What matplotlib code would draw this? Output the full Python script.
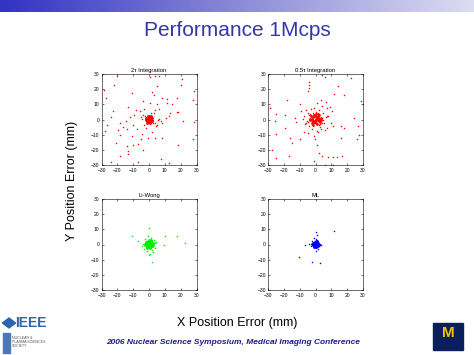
import numpy as np
import matplotlib.pyplot as plt
from matplotlib.colors import LinearSegmentedColormap
from matplotlib.patches import Rectangle, RegularPolygon

plt.rcParams['font.family'] = ['Liberation Sans', 'DejaVu Sans']

# panel titles
titles = ['2\u03c4 Integration', '0.5\u03c4 Integration', 'Li-Wong', 'ML']
colors = ['red', 'red', '#00ee00', 'blue']
ticks = [-30, -20, -10, 0, 10, 20, 30]

# core clusters (mm)
core_x = [0, 0.5, -0.5, 1, -1, 1.5, -1.5, 0.3, -0.3, 0.8, -0.8, 1.2, -1.2, 2, -2,
          0.6, -0.6, 1.7, -1.7, 0.2, -0.2, 1, -1, 2.2, -2.2, 0.4, -0.4, 1.4, -1.4, 0]
core_y = [0, 0.6, -0.5, 1.2, -1, 0.2, 0.4, -1.5, 1.6, -0.3, 0.9, 1.8, -1.3, 0.8, -0.4,
          -2, 2, -1, 1.3, 0.1, -0.9, 2.3, -2.1, -0.2, 0.3, 1, -1.2, -0.7, -0.2, 2.4]

# 2tau integration
tl_x = [-20, 0.7, 4, 6, 21, 20, -22, -28.5, 28.3, 5, -11, 2, 3, 8, 11.6, 17.5, 27.7, -27,
        -3.5, 0.5, 11.4, 14.3, 5, -13, -23, -8, -6, -3, 1.4, 6, 13.5, 17.5, 18.3, -9.3,
        -12, -14.7, -24, -26.6, -27.7, -18.5, -16.6, -19.6, -18.5, -21, -13.7, -10, -7.4,
        -11, -4.3, -5, -7, -10, -13.7, -13, -3.9, -13, -18.5, -24, -7, 7.8, 12.5, 3.5, 5,
        6.5, 7.5, 8, 11, 12.5, 21.7, 28.6, 2, 4, -0.7, 8, 18, 27.5, -1.8, -4, 3, -3, 4.5,
        -5, 2.5, -2.5, 5.5, 3.5, -4.5]
tl_y = [28.4, 27.7, 28.4, 28.4, 26.6, 23, 23, 19.5, 19, 22, 17.7, 18, 16, 14, 13.4, 14, 13,
        14, 12.5, 11, 11, 10, 10.3, 8.5, 5.8, 6.5, 5.4, 7, 4.2, 7, 4.2, 5, 5, 3.1, 1.6,
        -0.9, 1.6, -3.6, -7.4, -2.5, -4.7, -7, -10, -15.2, -6.3, -3.6, -6.3, -11, -9.6, -13,
        -16, -16.6, -17.7, -20.8, -20, -23, -24, -28, -28, -26, -29, -2.5, -3.6, 0.5, -1,
        -2, 1, 2, -1, -1.8, -8, -12, -12, -12, -17, -13, -5.8, 3, 4, -3.5, -4.5, 1.5,
        -2.5, 2.5, 0, 6, 0.5]

# 0.5tau integration
tr_x = [4.4, 6, 22.7, 14, -4.4, -4.4, -4, -4.8, -18.3, 11.7, 18.3, 29, 30, -9.8, -29, 0.8,
        4.4, 7, 9, 10.6, -24.8, -19.4, -12.3, -13, -25.6, -19, -25, -15.8, -14.6, -9.8,
        -7.5, -5, -1, -0.4, 1.25, 3.3, 7.5, 11, 16, 18, 24, 27, 27.7, 26, 16, 2.5, 4.4, 8,
        11, 13.3, 17, -0.8, 5.8, 11, -27.5, -25, -16.5, 3.3, 6.5, -6, -3, 2, 5, -7, 6.5,
        -4, 3, -2.5, 4, -5.5, 1, -3.5, 8, -8, 0, 5.5, -6, 2.5, -1.5, 3.8, -3.8, 4.5,
        -4.5, 2.8, -2.8, -6.5, 6, -1, 1.5, -5, 7, 9.5, -9]
tr_y = [29.6, 27.8, 27.4, 21.9, 24.5, 23, 21, 18.5, 12.8, 17, 16.3, 12, 10, 10, 7.5, 10.8,
        8.6, 7.5, 8, 5.3, 3.5, 3, -1.8, 0.9, -0.9, -5.3, -9.3, -12, -15.5, -12.8, -8, -9,
        -10.6, -13, -16.8, -6.4, -5.7, -4.6, -4.2, -5.7, 1.3, -4, -10, -12.8, -12.4, -22.3,
        -23.8, -24.5, -24.5, -24.5, -23.8, -27.4, -30, -30, -20, -25.6, -24, 13, 11.3, 6,
        7, 6.5, 4, 2, 1.5, -4, -5, -6, -2.5, -1, -7.5, 3.5, 2.5, 0.5, 5, -2, -2.5, -3.5,
        4, 1, 3, 0, -1.5, -2.8, 2.8, -3, -7, 7.5, -8.5, 4.5, 2.5, -2, 5.5]

# Li-Wong
bl_x = [-10.5, -0.3, 9.9, 17.7, 22.5, -0.7, -7, -4.6, 9.2, 1.8, 0.1, 3, -3, 4, 2.5, -2.5,
        1, -1.5, 3.5, -3.5, 0.5, 4.5, 2, -2]
bl_y = [5.6, 11, 5.9, 5.4, 1, 5.4, 2, -1.2, -0.1, -11.4, -7.2, 3, -3, -2, -5, 3.5, 4, -4.5,
        1, 0.5, -6, 1.5, -3.5, 2.5]

# ML
br_x = [11.9, 0, 0.8, -6.7, -10.6, -2.3, 2.7, -1.2, 2.8, -3, 3.5, 0.5, -2, 1.5, 0, -3.8]
br_y = [8.7, 8, 6.5, -0.6, -8.5, -11.4, -12.3, 4, 0.3, -0.8, -0.4, -4, 2.5, -3, 3.5, 0.5]

scatter = [(tl_x, tl_y), (tr_x, tr_y), (bl_x, bl_y), (br_x, br_y)]

fig = plt.figure(figsize=(4.74, 3.55), dpi=100)

# gradient bar on top of slide
grad = LinearSegmentedColormap.from_list('bar', ['#3232c4', '#8a8ad8', '#dcdcf2'])
bar = fig.add_axes([0, 1 - 12 / 355, 1, 12 / 355])
bar.imshow(np.linspace(0, 1, 256)[None, :], aspect='auto', cmap=grad)
bar.axis('off')

fig.text(0.5, 1 - 31 / 355, 'Performance 1Mcps', ha='center', va='center',
         fontsize=15, color='#3636a8')

lefts = [101.5 / 474, 268 / 474, 101.5 / 474, 268 / 474]
bottoms = [1 - 165 / 355, 1 - 165 / 355, 1 - 290 / 355, 1 - 290 / 355]
for i in range(4):
    ax = fig.add_axes([lefts[i], bottoms[i], 95 / 474, 91 / 355])
    sx, sy = scatter[i]
    ax.plot(sx, sy, '.', color=colors[i], markersize=2.2, markeredgewidth=0)
    # dense core, size of blob differs per method
    scale = [1.0, 1.6, 1.2, 0.9][i]
    ax.plot(np.array(core_x) * scale, np.array(core_y) * scale, '.', color=colors[i],
            markersize=4, markeredgewidth=0)
    ax.set_xlim(-30, 30)
    ax.set_ylim(-30, 30)
    ax.set_xticks(ticks)
    ax.set_yticks(ticks)
    ax.tick_params(direction='in', length=1.5, width=0.4, labelsize=3.6,
                   top=True, right=True)
    ax.tick_params(axis='x', pad=2)
    ax.tick_params(axis='y', pad=1.5)
    for s in ax.spines.values():
        s.set_linewidth(0.4)
    ax.set_title(titles[i], fontsize=4.2, pad=1.5)

fig.text(72 / 474, 1 - 181 / 355, 'Y Position Error (mm)', rotation=90,
         ha='center', va='center', fontsize=9)
fig.text(237 / 474, 1 - 323 / 355, 'X Position Error (mm)', ha='center', va='center',
         fontsize=9)
fig.text(233 / 474, 1 - 343 / 355,
         '2006 Nuclear Science Symposium, Medical Imaging Conference',
         ha='center', va='center', fontsize=6, fontweight='bold', style='italic',
         color='#1c1c8c')

# IEEE logo
fig.patches.append(RegularPolygon((9 / 474, 1 - 323 / 355), 4, radius=0.014,
                                  transform=fig.transFigure, color='#2c64b4'))
fig.text(15 / 474, 1 - 323 / 355, 'IEEE', ha='left', va='center', fontsize=10,
         fontweight='bold', color='#2c64b4')
fig.patches.append(Rectangle((3 / 474, 1 - 353 / 355), 7 / 474, 20 / 355,
                             transform=fig.transFigure, color='#4a78b8'))
fig.text(12 / 474, 1 - 342 / 355, 'NUCLEAR &\nPLASMA SCIENCES\nSOCIETY', ha='left',
         va='center', fontsize=2.6, color='#555555', linespacing=0.9)

# Michigan logo
fig.patches.append(Rectangle((433 / 474, 1 - 350 / 355), 30 / 474, 27 / 355,
                             transform=fig.transFigure, color='#0b1f5c'))
fig.text(448 / 474, 1 - 333 / 355, 'M', ha='center', va='center', fontsize=11,
         fontweight='bold', color='#f2c500')

fig.savefig('out.png', dpi=100)
